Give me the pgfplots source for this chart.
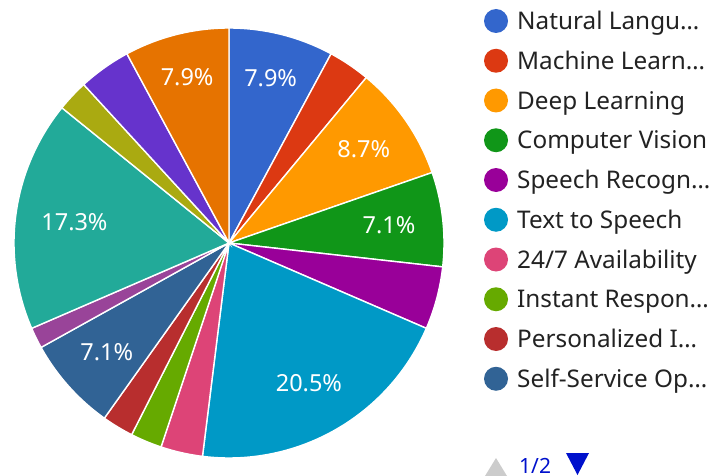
\documentclass[border=0pt]{standalone}
\usepackage{pgfplots}
\pgfplotsset{compat=1.18}
\usepackage{pgfplotstable}
\usepackage{fontspec}
\setmainfont{Noto Sans}
\definecolor{c0}{HTML}{3366CC}
\definecolor{c1}{HTML}{DC3912}
\definecolor{c2}{HTML}{FF9900}
\definecolor{c3}{HTML}{109618}
\definecolor{c4}{HTML}{990099}
\definecolor{c5}{HTML}{0099C6}
\definecolor{c6}{HTML}{DD4477}
\definecolor{c7}{HTML}{66AA00}
\definecolor{c8}{HTML}{B82E2E}
\definecolor{c9}{HTML}{316395}
\definecolor{c10}{HTML}{994499}
\definecolor{c11}{HTML}{22AA99}
\definecolor{c12}{HTML}{AAAA11}
\definecolor{c13}{HTML}{6633CC}
\definecolor{c14}{HTML}{E67300}
\definecolor{legtext}{HTML}{222222}
\definecolor{pageblue}{HTML}{0011CC}
% label radius (lr) = distance of the percentage text from the centre, in px
\pgfplotstableread[col sep=comma]{
label,value,lr
Natural Langu…,10,170
Machine Learn…,4,160
Deep Learning,11,164
Computer Vision,9,161
Speech Recogn…,6,160
Text to Speech,26,161
24/7 Availability,4,160
Instant Respon…,3,160
Personalized I…,3,160
Self-Service Op…,9,164
Item 11,2,160
Item 12,22,156
Item 13,3,160
Item 14,5,160
Item 15,10,171
}\piedata
\begin{document}
\begin{tikzpicture}
\begin{axis}[width=713bp,height=476bp,scale only axis,
  xmin=0,xmax=713,ymin=0,ymax=476,y dir=reverse,hide axis,clip=false,
  /pgf/number format/assume math mode=true]
\path (0,0) rectangle (713,476);
% total
\gdef\tot{0}
\pgfplotsforeachungrouped \i in {0,...,14}{%
  \pgfplotstablegetelem{\i}{value}\of\piedata
  \pgfmathsetmacro{\t}{\tot+\pgfplotsretval}%
  \global\let\tot\t
}
\gdef\a{0}
\pgfplotsforeachungrouped \i in {0,...,14}{%
  \pgfplotstablegetelem{\i}{value}\of\piedata
  \let\v\pgfplotsretval
  \pgfplotstablegetelem{\i}{lr}\of\piedata
  \let\lr\pgfplotsretval
  \pgfmathsetmacro{\b}{\a+\v*360/\tot}%
  \pgfmathsetmacro{\m}{(\a+\b)/2}%
  \pgfmathsetmacro{\lx}{229+\lr*sin(\m)}%
  \pgfmathsetmacro{\ly}{243-\lr*cos(\m)}%
  \pgfmathsetmacro{\pct}{100*\v/\tot}%
  \edef\cmd{\noexpand\addplot[draw=white, line width=1.4bp, fill=c\i, domain=\a:\b, samples=60] ({229+215*sin(x)},{243-215*cos(x)}) -- (229,243) -- cycle;}%
  \cmd
  \ifdim\pct pt>5pt
    \edef\cmd{\noexpand\node[text=white,font=\noexpand\fontsize{23.5bp}{26bp}\noexpand\selectfont] at (\lx,\ly) {\noexpand\pgfmathprintnumber[fixed,precision=1,fixed zerofill,assume math mode=true]{\pct}\noexpand\%};}%
    \cmd
  \fi
  \global\let\a\b
}
% legend (page 1 of 2)
\pgfplotsforeachungrouped \i in {0,...,9}{%
  \pgfplotstablegetelem{\i}{label}\of\piedata
  \pgfmathsetmacro{\ry}{21+39.75*\i}%
  \pgfmathsetmacro{\by}{\ry+8.5}%
  \edef\cmd{\noexpand\fill[c\i] (496,\ry) circle[radius=12bp];
    \noexpand\node[anchor=base west,inner sep=0pt,text=legtext,font=\noexpand\fontsize{24.3bp}{27bp}\noexpand\selectfont] at (517,\by) {\pgfplotsretval};}%
  \cmd
}
\fill[black!20] (485,476) -- (507,476) -- (496,458) -- cycle;
\node[anchor=base west,inner sep=0pt,text=pageblue,font=\fontsize{21bp}{24bp}\selectfont] at (519,473) {1/2};
\fill[pageblue] (566,453) -- (589,453) -- (577.5,475) -- cycle;
\end{axis}
\end{tikzpicture}
\end{document}
